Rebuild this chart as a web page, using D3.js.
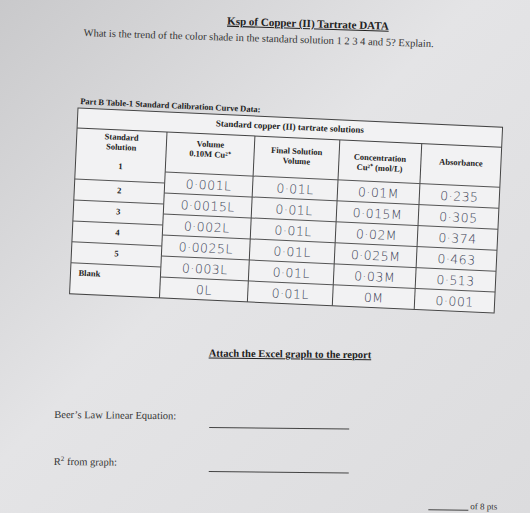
<!DOCTYPE html>
<html><head><meta charset="utf-8">
<script src="https://cdn.jsdelivr.net/npm/d3@7"></script>
<style>body{margin:0;background:#d8d8d8}</style>
</head><body>
<svg id="c" width="530" height="513"></svg>
<script>
const solutions = ["1", "2", "3", "4", "5", "Blank"];
const volumes = ["0.001L", "0.0015L", "0.002L", "0.0025L", "0.003L", "0L"];
const finalVolumes = ["0.01L", "0.01L", "0.01L", "0.01L", "0.01L", "0.01L"];
const concentrations = ["0.01M", "0.015M", "0.02M", "0.025M", "0.03M", "0M"];
const absorbances = ["0.235", "0.305", "0.374", "0.463", "0.513", "0.001"];
const columns = ["sol", "vol", "fin", "conc", "abs"];

const svg = d3.select("#c");
const defs = svg.append("defs");
const g = defs.append("linearGradient").attr("id", "paper").attr("x1", 0).attr("y1", 0).attr("x2", 1).attr("y2", 1);
g.append("stop").attr("offset", "0%").attr("stop-color", "#c9c9cb");
g.append("stop").attr("offset", "45%").attr("stop-color", "#e4e4e6");
g.append("stop").attr("offset", "100%").attr("stop-color", "#dcdcde");
svg.append("rect").attr("width", 530).attr("height", 513).attr("fill", "url(#paper)");

const serif = "Liberation Serif, serif";
const hand = "DejaVu Sans, sans-serif";

const page = svg.append("g").attr("transform", "rotate(1.8,80,20)");
page.append("text").attr("x", 308).attr("y", 20).attr("text-anchor", "middle")
  .attr("font-family", serif).attr("font-weight", "bold").attr("font-size", 11).attr("fill", "#222")
  .attr("text-decoration", "underline").text("Ksp of Copper (II) Tartrate DATA");
page.append("text").attr("x", 84).attr("y", 36).attr("font-family", serif).attr("font-size", 10.5).attr("fill", "#333")
  .text("What is the trend of the color shade in the standard solution 1 2 3 4 and 5? Explain.");

const t = svg.append("g").attr("transform", "translate(78,108) rotate(2.6)");
const W = 425, headH = 20, colH = 40, rowH = 21;
const x = d3.scaleOrdinal().domain(columns).range([0, 90, 178, 263, 345]);
const xEnd = [90, 178, 263, 345, W];
const y = d3.scaleBand().domain(d3.range(solutions.length)).range([headH + colH, headH + colH + rowH * solutions.length]);
const H = headH + colH + rowH * solutions.length;
const lead = 10; // left column rows sit higher than the handwritten rows

t.append("text").attr("x", 2).attr("y", -4).attr("font-family", serif).attr("font-weight", "bold")
  .attr("font-size", 8.5).attr("fill", "#222").text("Part B Table-1 Standard Calibration Curve Data:");
t.append("rect").attr("width", W).attr("height", H).attr("fill", "#f2f2f3").attr("stroke", "#444").attr("stroke-width", 1);
t.append("text").attr("x", W / 2).attr("y", 12).attr("text-anchor", "middle").attr("font-family", serif)
  .attr("font-weight", "bold").attr("font-size", 9).attr("fill", "#222").text("Standard copper (II) tartrate solutions");
t.append("line").attr("x1", 0).attr("x2", W).attr("y1", headH).attr("y2", headH).attr("stroke", "#444");
columns.slice(1).forEach(c => t.append("line").attr("x1", x(c)).attr("x2", x(c)).attr("y1", headH).attr("y2", H).attr("stroke", "#444"));

d3.range(solutions.length).forEach(i => t.append("line").attr("x1", x("vol")).attr("x2", W)
  .attr("y1", y(i)).attr("y2", y(i)).attr("stroke", "#555"));
d3.range(solutions.length - 1).forEach(i => t.append("line").attr("x1", 0).attr("x2", x("vol"))
  .attr("y1", y(i) + rowH - lead).attr("y2", y(i) + rowH - lead).attr("stroke", "#555"));

const heads = [["Standard", "Solution"], ["Volume", "0.10M Cu²⁺"], ["Final Solution", "Volume"], ["Concentration", "Cu²⁺ (mol/L)"], ["Absorbance"]];
const headY = [10, 13, 16, 19, 20];
heads.forEach((h, j) => h.forEach((s, k) => t.append("text")
  .attr("x", (x(columns[j]) + xEnd[j]) / 2).attr("y", headH + headY[j] + k * 10).attr("text-anchor", "middle")
  .attr("font-family", serif).attr("font-weight", "bold").attr("font-size", 8.5).attr("fill", "#222").text(s)));

solutions.forEach((s, i) => t.append("text").attr("x", i === 5 ? 8 : 45)
  .attr("y", i === 0 ? headH + 39 : y(i) - lead + rowH / 2 + 2)
  .attr("text-anchor", i === 5 ? "start" : "middle").attr("font-family", serif).attr("font-weight", "bold")
  .attr("font-size", 8.5).attr("fill", "#222").text(s));

const cols = [["vol", volumes], ["fin", finalVolumes], ["conc", concentrations], ["abs", absorbances]];
cols.forEach(([c, vals], j) => vals.forEach((v, i) => t.append("text")
  .attr("x", (x(c) + xEnd[j + 1]) / 2).attr("y", y(i) + rowH / 2 + 5).attr("text-anchor", "middle")
  .attr("font-family", hand).attr("font-weight", 300).attr("font-size", 12.5).attr("letter-spacing", 0.5)
  .attr("fill", "#3a3f55").text(v.replace(".", "·"))));

const low = svg.append("g").attr("transform", "rotate(0.6,60,350)");
low.append("text").attr("x", 290).attr("y", 355).attr("text-anchor", "middle").attr("font-family", serif)
  .attr("font-weight", "bold").attr("font-size", 10.5).attr("fill", "#222").attr("text-decoration", "underline")
  .text("Attach the Excel graph to the report");
low.append("text").attr("x", 55).attr("y", 418).attr("font-family", serif).attr("font-size", 10.5).attr("fill", "#333")
  .text("Beer’s Law Linear Equation:");
low.append("line").attr("x1", 210).attr("x2", 350).attr("y1", 426).attr("y2", 426).attr("stroke", "#444");
const r2 = low.append("text").attr("x", 55).attr("y", 465).attr("font-family", serif).attr("font-size", 10.5).attr("fill", "#333");
r2.append("tspan").text("R");
r2.append("tspan").attr("font-size", 7).attr("dy", -4).text("2");
r2.append("tspan").attr("dy", 4).text(" from graph:");
low.append("line").attr("x1", 210).attr("x2", 350).attr("y1", 470).attr("y2", 470).attr("stroke", "#444");
low.append("line").attr("x1", 430).attr("x2", 470).attr("y1", 506).attr("y2", 506).attr("stroke", "#444");
low.append("text").attr("x", 472).attr("y", 505).attr("font-family", serif).attr("font-size", 9).attr("fill", "#333").text("of 8 pts");
</script>
</body></html>
